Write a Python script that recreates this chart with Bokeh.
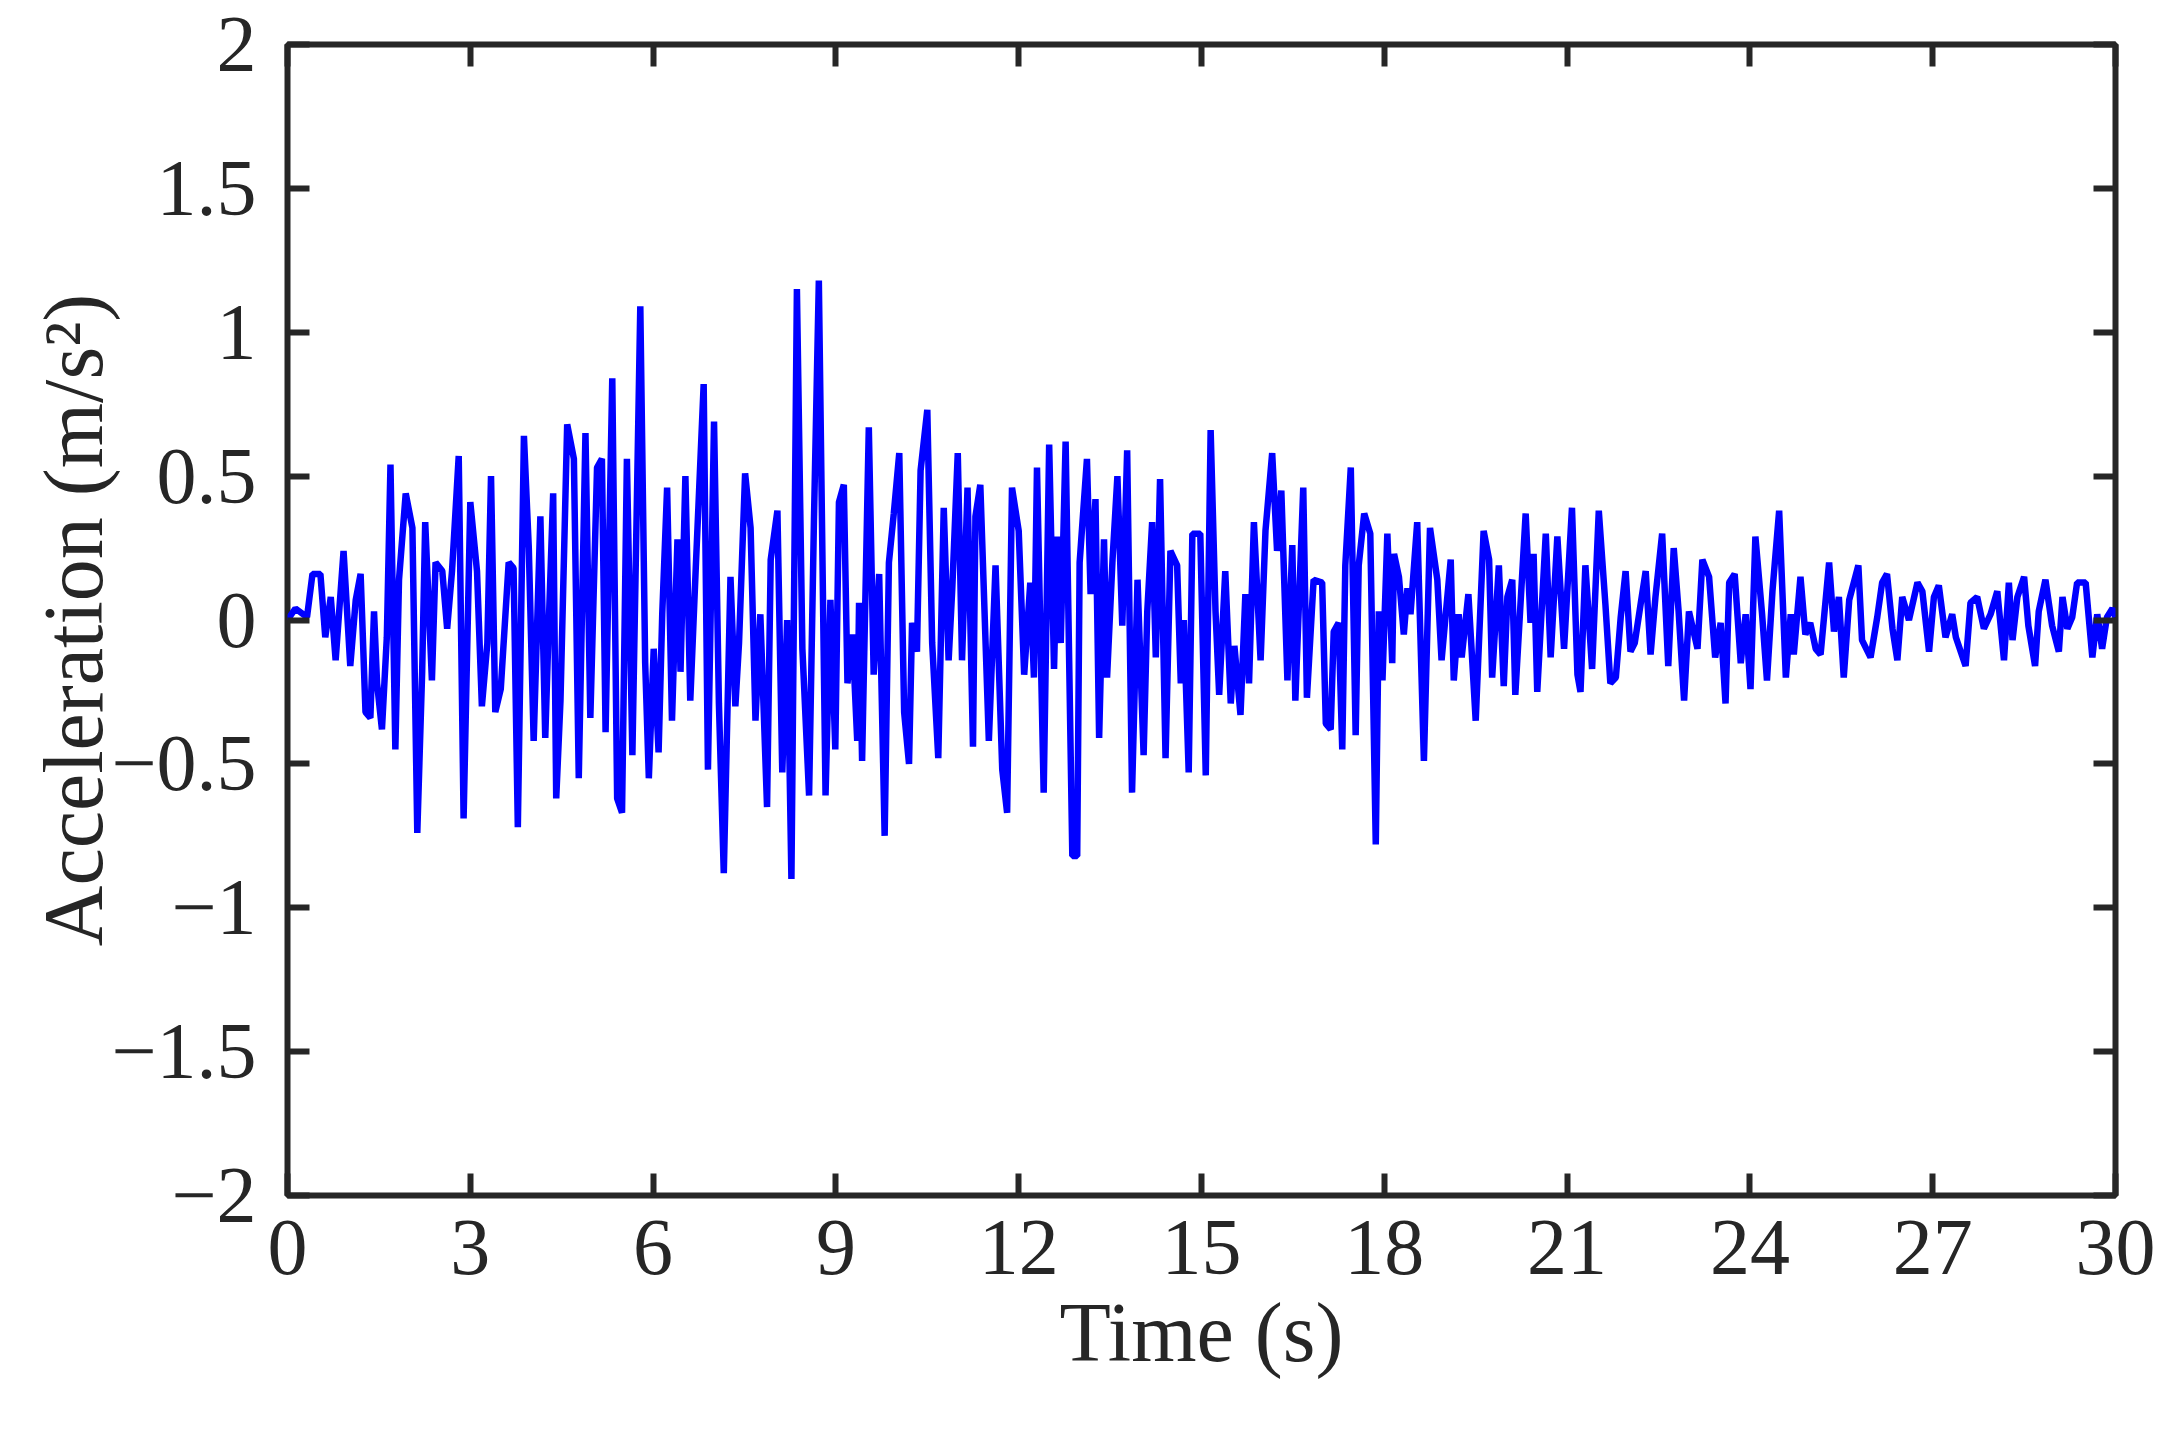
from bokeh.plotting import figure
from bokeh.models import Range1d, LinearAxis, FixedTicker
from bokeh.embed import file_html
from bokeh.resources import INLINE

# ---- data ----
t_a = [0.00,0.13,0.32,0.41,0.54,0.62,0.71,0.79,0.92,1.03,1.12,1.20,1.28,1.36,1.42,1.47,1.55,1.63,1.69,1.77,1.83,1.94,2.05,2.13,2.21,2.26,2.37,2.43,2.54,2.62,2.70,2.81,2.89,3.00,3.11,3.19,3.28,3.34,3.41,3.50,3.63,3.71,3.78,3.88,3.96,4.04,4.15,4.23,4.29,4.36,4.41,4.48,4.59,4.70,4.78,4.89,4.97,5.08,5.16,5.22,5.33,5.41,5.49,5.57,5.66,5.79,5.87]
a_a = [0.00,0.04,0.01,0.16,0.16,-0.06,0.08,-0.14,0.24,-0.16,0.07,0.16,-0.32,-0.34,0.03,-0.22,-0.38,-0.06,0.54,-0.45,0.14,0.44,0.32,-0.74,-0.18,0.34,-0.21,0.20,0.17,-0.03,0.17,0.57,-0.69,0.41,0.17,-0.30,-0.08,0.50,-0.32,-0.24,0.20,0.18,-0.72,0.64,0.25,-0.42,0.36,-0.41,0.00,0.44,-0.62,-0.28,0.68,0.56,-0.55,0.65,-0.34,0.53,0.56,-0.39,0.84,-0.62,-0.67,0.56,-0.47,1.09,-0.15]

t_b = [5.93,6.01,6.09,6.15,6.23,6.31,6.40,6.45,6.53,6.61,6.70,6.83,6.90,7.00,7.08,7.16,7.27,7.35,7.41,7.51,7.60,7.68,7.76,7.87,7.93,8.04,8.12,8.20,8.27,8.36,8.45,8.56,8.64,8.72,8.83,8.91,8.99,9.05,9.13,9.19,9.27,9.35,9.38,9.43,9.54,9.62,9.71,9.80,9.87,9.95,10.04,10.12,10.20,10.25,10.33,10.39,10.50,10.58,10.68,10.77,10.85,10.91,11.00,11.07,11.16,11.25,11.29,11.37,11.51,11.62,11.73,11.81]
a_b = [-0.55,-0.10,-0.46,0.02,0.46,-0.35,0.28,-0.18,0.50,-0.28,0.18,0.82,-0.52,0.69,-0.29,-0.88,0.15,-0.30,-0.08,0.51,0.32,-0.35,0.02,-0.65,0.21,0.38,-0.53,0.00,-0.90,1.15,-0.10,-0.61,0.35,1.18,-0.61,0.07,-0.45,0.41,0.47,-0.22,-0.05,-0.42,0.06,-0.49,0.67,-0.19,0.16,-0.75,0.20,0.37,0.58,-0.32,-0.50,-0.01,-0.11,0.52,0.73,-0.08,-0.48,0.39,-0.14,0.11,0.58,-0.14,0.46,-0.44,0.36,0.47,-0.42,0.19,-0.52,-0.67]

t_c = [11.89,12.00,12.09,12.19,12.25,12.30,12.41,12.50,12.58,12.63,12.69,12.77,12.88,12.96,13.00,13.12,13.18,13.26,13.32,13.40,13.45,13.54,13.62,13.70,13.78,13.86,13.95,14.05,14.11,14.19,14.25,14.32,14.41,14.49,14.60,14.66,14.71,14.79,14.85,14.98,15.07,15.15,15.23,15.29,15.39,15.48,15.54,15.64,15.72,15.78,15.86,15.97,16.05,16.16,16.24,16.31,16.41,16.49,16.54,16.67,16.73,16.84,16.98,17.04,17.12,17.17,17.25,17.31,17.36,17.45,17.53,17.58,17.67,17.77,17.86]
a_c = [0.46,0.31,-0.19,0.13,-0.20,0.53,-0.60,0.61,-0.17,0.29,-0.08,0.62,-0.82,-0.82,0.20,0.56,0.09,0.42,-0.41,0.28,-0.20,0.21,0.50,-0.02,0.59,-0.60,0.14,-0.47,0.03,0.34,-0.13,0.49,-0.48,0.24,0.19,-0.22,0.00,-0.53,0.30,0.30,-0.54,0.66,0.03,-0.26,0.17,-0.29,-0.09,-0.33,0.09,-0.22,0.34,-0.14,0.31,0.58,0.24,0.45,-0.21,0.26,-0.28,0.46,-0.27,0.14,0.13,-0.36,-0.38,-0.04,-0.01,-0.45,0.19,0.53,-0.40,0.19,0.37,0.30,-0.78]

t_d = [17.91,17.97,18.05,18.13,18.16,18.24,18.32,18.38,18.43,18.54,18.65,18.75,18.87,18.94,19.09,19.14,19.22,19.27,19.38,19.50,19.63,19.72,19.77,19.88,19.96,20.02,20.10,20.15,20.32,20.40,20.45,20.51,20.65,20.73,20.84,20.95,21.08,21.17,21.22,21.30,21.41,21.52,21.63,21.71,21.80,21.88,21.96,22.04,22.11,22.21,22.29,22.37,22.45,22.56,22.66,22.75,22.83,22.92,23.00,23.14,23.22,23.33,23.43,23.52,23.60,23.66,23.75,23.85,23.93,24.01]
a_d = [0.03,-0.21,0.30,-0.15,0.23,0.15,-0.05,0.11,0.02,0.34,-0.49,0.32,0.14,-0.14,0.21,-0.21,0.02,-0.13,0.09,-0.35,0.31,0.21,-0.20,0.19,-0.23,0.08,0.14,-0.26,0.37,-0.01,0.23,-0.25,0.30,-0.13,0.29,-0.10,0.39,-0.19,-0.25,0.19,-0.17,0.38,0.05,-0.22,-0.20,0.01,0.17,-0.11,-0.08,0.06,0.17,-0.12,0.08,0.30,-0.16,0.25,0.03,-0.28,0.03,-0.10,0.21,0.15,-0.13,-0.01,-0.29,0.13,0.16,-0.15,0.02,-0.24]

t_e = [24.09,24.20,24.28,24.37,24.48,24.59,24.67,24.72,24.83,24.91,24.99,25.08,25.16,25.30,25.38,25.46,25.54,25.63,25.78,25.84,25.98,26.09,26.17,26.25,26.34,26.42,26.50,26.61,26.75,26.83,26.94,27.02,27.10,27.21,27.32,27.38,27.54,27.62,27.73,27.84,27.95,28.06,28.17,28.25,28.31,28.39,28.50,28.57,28.68,28.74,28.85,28.96,29.07,29.13,29.21,29.29,29.37,29.51,29.62,29.70,29.78,29.86,29.95,30.00]
a_e = [0.29,0.02,-0.21,0.10,0.38,-0.20,0.02,-0.12,0.15,-0.05,-0.01,-0.10,-0.12,0.20,-0.04,0.08,-0.20,0.07,0.19,-0.07,-0.13,0.01,0.13,0.16,-0.03,-0.14,0.08,0.00,0.13,0.10,-0.11,0.08,0.12,-0.06,0.02,-0.06,-0.16,0.06,0.08,-0.03,0.02,0.10,-0.14,0.13,-0.07,0.08,0.15,-0.02,-0.16,0.03,0.14,-0.02,-0.11,0.08,-0.03,0.01,0.13,0.13,-0.13,0.02,-0.10,0.01,0.04,0.01]

x_ticks = [0, 3, 6, 9, 12, 15, 18, 21, 24, 27, 30]
y_ticks = [-2, -1.5, -1, -0.5, 0, 0.5, 1, 1.5, 2]
y_tick_labels = ["\u22122", "\u22121.5", "\u22121", "\u22120.5", "0", "0.5", "1", "1.5", "2"]
x_label = "Time (s)"
y_label = "Acceleration (m/s\u00b2)"

time_s = t_a + t_b + t_c + t_d + t_e
accel = a_a + a_b + a_c + a_d + a_e

# ---- figure ----
FONT = "Liberation Serif"
DARK = "#262626"

p = figure(width=2157, height=1413, x_range=Range1d(0, 30), y_range=Range1d(-2, 2),
           output_backend="svg", toolbar_location=None,
           min_border_left=287, min_border_right=42, min_border_top=44, min_border_bottom=218)
p.grid.visible = False
p.outline_line_color = DARK
p.outline_line_width = 6
p.background_fill_color = "white"
p.border_fill_color = "white"

p.line(time_s, accel, line_color="#0000FF", line_width=6.5, line_join="bevel")

p.xaxis.ticker = FixedTicker(ticks=x_ticks)
p.yaxis.ticker = FixedTicker(ticks=y_ticks)
p.yaxis.major_label_overrides = {k: v for k, v in zip(y_ticks, y_tick_labels)}
p.xaxis.axis_label = x_label
p.yaxis.axis_label = y_label

for ax in (p.xaxis[0], p.yaxis[0]):
    ax.axis_line_color = None
    ax.major_tick_in = 22
    ax.major_tick_out = 0
    ax.major_tick_line_width = 6
    ax.major_tick_line_color = DARK
    ax.minor_tick_line_color = None
    ax.major_label_text_font = FONT
    ax.major_label_text_font_size = "80px"
    ax.major_label_text_color = DARK
    ax.axis_label_text_font = FONT
    ax.axis_label_text_font_size = "84px"
    ax.axis_label_text_font_style = "normal"
    ax.axis_label_text_color = DARK

p.xaxis.major_label_standoff = 25
p.xaxis.axis_label_standoff = 9
p.yaxis.major_label_standoff = 31
p.yaxis.axis_label_standoff = -12

# mirrored ticks on top and right (no labels)
for loc, tk in (("above", x_ticks), ("right", y_ticks)):
    ax = LinearAxis(ticker=FixedTicker(ticks=tk))
    ax.axis_line_color = None
    ax.major_tick_in = 22
    ax.major_tick_out = 0
    ax.major_tick_line_width = 6
    ax.major_tick_line_color = DARK
    ax.minor_tick_line_color = None
    ax.major_label_text_font_size = "0px"
    ax.major_label_text_alpha = 0
    ax.major_label_standoff = 0
    p.add_layout(ax, loc)

open("out.html", "w").write(file_html(p, INLINE))
